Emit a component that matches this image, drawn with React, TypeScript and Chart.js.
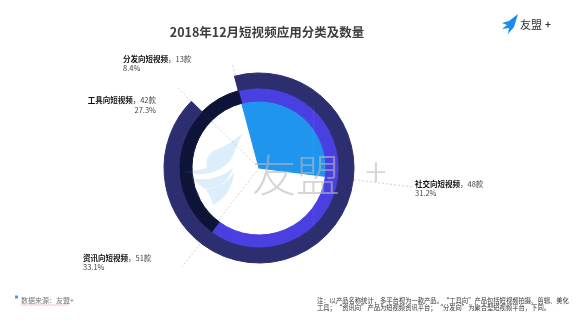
import React, { useEffect, useRef } from "react";
import { Chart, registerables } from "chart.js";

Chart.register(...registerables);

const categories = ["社交向短视频", "资讯向短视频", "工具向短视频", "分发向短视频"];
const counts = [48, 51, 42, 13];
const percentLabels = ["31.2%", "33.1%", "27.3%", "8.4%"];
const countLabels = ["，48款", "，51款", "，42款", "，13款"];
const titleText = "2018年12月短视频应用分类及数量";
const sourceText = "数据来源：友盟+";
const noteLines = [
  "注：以产品名称统计，多平台视为一款产品。“工具向”产品包括短视频拍摄、剪辑、美化",
  "工具；“资讯向”产品为短视频资讯平台；“分发向”为聚合型短视频平台，下同。",
];

const NAVY = "#2c2e70";
const PURPLE = "#4a3fe0";
const DARK = "#0e1437";
const BLUE = "#1f95ee";
const NONE = "rgba(0,0,0,0)";
const FONT = '"Noto Sans CJK SC", "Noto Sans", sans-serif';

// label anchor layout: [x, y, align, lineEnd x, lineEnd y]
const labelLayout: Array<[number, number, CanvasTextAlign, number, number]> = [
  [415, 184, "left", 413, 187],
  [83, 258, "left", 182, 267],
  [156, 100.5, "right", 177, 87],
  [123, 59, "left", 232, 63],
];

const overlayPlugin = {
  id: "overlay",
  beforeDatasetsDraw(chart: any) {
    const ctx = chart.ctx as CanvasRenderingContext2D;
    const arc = chart.getDatasetMeta(0).data[0];
    const cx = arc.x;
    const cy = arc.y;
    ctx.save();
    ctx.strokeStyle = "#bdbdbd";
    ctx.lineWidth = 0.7;
    ctx.setLineDash([2, 2]);
    labelLayout.forEach((l) => {
      ctx.beginPath();
      ctx.moveTo(cx, cy);
      ctx.lineTo(l[3], l[4]);
      ctx.stroke();
    });
    ctx.restore();
  },
  afterDatasetsDraw(chart: any) {
    const ctx = chart.ctx as CanvasRenderingContext2D;
    ctx.save();
    // watermark bird
    ctx.fillStyle = "rgba(40,140,230,0.16)";
    ctx.beginPath();
    ctx.moveTo(242, 134);
    ctx.quadraticCurveTo(226, 147, 213, 151);
    ctx.quadraticCurveTo(204, 158, 207, 168);
    ctx.quadraticCurveTo(195, 172, 182, 171);
    ctx.quadraticCurveTo(212, 181, 231, 160);
    ctx.quadraticCurveTo(236, 148, 242, 134);
    ctx.closePath();
    ctx.fill();
    ctx.beginPath();
    ctx.moveTo(190, 178);
    ctx.quadraticCurveTo(216, 183, 233, 168);
    ctx.quadraticCurveTo(226, 188, 205, 189);
    ctx.closePath();
    ctx.fill();
    ctx.beginPath();
    ctx.moveTo(206, 190);
    ctx.quadraticCurveTo(226, 186, 234, 172);
    ctx.quadraticCurveTo(232, 195, 213, 205);
    ctx.quadraticCurveTo(211, 196, 206, 190);
    ctx.closePath();
    ctx.fill();
    // watermark text
    ctx.fillStyle = "rgba(185,185,185,0.6)";
    ctx.font = `300 44px ${FONT}`;
    ctx.textBaseline = "middle";
    ctx.textAlign = "left";
    ctx.fillText("友盟", 252, 175);
    ctx.font = `300 40px ${FONT}`;
    ctx.textAlign = "center";
    ctx.fillText("+", 376, 172);
    // faint guide line
    ctx.strokeStyle = "rgba(255,255,255,0.1)";
    ctx.lineWidth = 0.6;
    ctx.beginPath();
    ctx.moveTo(313.5, 106);
    ctx.lineTo(313.5, 229);
    ctx.stroke();
    ctx.restore();
  },
  afterDraw(chart: any) {
    const ctx = chart.ctx as CanvasRenderingContext2D;
    ctx.save();
    ctx.textBaseline = "middle";
    // title
    ctx.fillStyle = "#3d3d3d";
    ctx.font = `bold 12.5px ${FONT}`;
    ctx.textAlign = "center";
    ctx.fillText(titleText, 267, 32);
    // slice labels
    categories.forEach((name, i) => {
      const [x, y, align] = labelLayout[i];
      ctx.font = `bold 7.5px ${FONT}`;
      const wName = ctx.measureText(name).width;
      ctx.font = `7.5px ${FONT}`;
      const wCount = ctx.measureText(countLabels[i]).width;
      const wPct = ctx.measureText(percentLabels[i]).width;
      const startX = align === "left" ? x : x - wName - wCount;
      ctx.textAlign = "left";
      ctx.fillStyle = "#111";
      ctx.font = `bold 7.5px ${FONT}`;
      ctx.fillText(name, startX, y);
      ctx.fillStyle = "#444";
      ctx.font = `7.5px ${FONT}`;
      ctx.fillText(countLabels[i], startX + wName, y);
      const px = align === "left" ? x : x - wPct;
      ctx.fillText(percentLabels[i], px, y + 9.5);
    });
    // top-right logo
    ctx.fillStyle = "#1a8ceb";
    ctx.beginPath();
    ctx.moveTo(518, 14);
    ctx.lineTo(509, 21);
    ctx.lineTo(502, 23);
    ctx.lineTo(507, 25);
    ctx.lineTo(502, 29);
    ctx.lineTo(509, 28);
    ctx.lineTo(508, 34);
    ctx.lineTo(514, 27);
    ctx.closePath();
    ctx.fill();
    ctx.fillStyle = "#333";
    ctx.font = `11px ${FONT}`;
    ctx.textAlign = "left";
    ctx.fillText("友盟", 520, 25);
    ctx.font = `bold 10px ${FONT}`;
    ctx.fillText("+", 545, 24);
    // source
    ctx.fillStyle = "#4a9de8";
    ctx.fillRect(15, 295.5, 3, 3);
    ctx.fillStyle = "#777";
    ctx.font = `7px ${FONT}`;
    ctx.fillText(sourceText, 21, 300.5);
    ctx.strokeStyle = "rgba(230,80,80,0.55)";
    ctx.lineWidth = 0.6;
    ctx.beginPath();
    for (let xx = 21; xx <= 70; xx += 2) {
      const yy = xx % 4 === 1 ? 304.5 : 305.5;
      if (xx === 21) ctx.moveTo(xx, yy);
      else ctx.lineTo(xx, yy);
    }
    ctx.stroke();
    // note
    ctx.fillStyle = "#333";
    ctx.font = `6.3px ${FONT}`;
    ctx.fillText(noteLines[0], 317, 300.7, 255);
    ctx.fillText(noteLines[1], 317, 307.5, 255);
    ctx.restore();
  },
};

export default function App() {
  const ref = useRef<HTMLCanvasElement | null>(null);
  useEffect(() => {
    if (!ref.current) return;
    const chart = new Chart(ref.current, {
      type: "doughnut",
      data: {
        labels: categories,
        datasets: [
          {
            data: counts,
            backgroundColor: [NAVY, NAVY, NAVY, NONE],
            borderColor: [NAVY, NAVY, NAVY, NONE],
            borderWidth: [1, 1, 1, 0],
            weight: 15,
          } as any,
          {
            data: counts,
            backgroundColor: [PURPLE, PURPLE, DARK, DARK],
            borderColor: [PURPLE, PURPLE, DARK, DARK],
            borderWidth: 1,
            weight: 13,
          } as any,
          {
            data: counts,
            backgroundColor: [BLUE, NONE, NONE, NONE],
            borderColor: [BLUE, NONE, NONE, NONE],
            borderWidth: [1, 0, 0, 0],
            weight: 67,
          } as any,
        ],
      },
      options: {
        animation: false,
        responsive: true,
        maintainAspectRatio: false,
        events: [],
        cutout: 0,
        radius: 95,
        rotation: -15,
        layout: { padding: { left: 0, right: 62, top: 14, bottom: 0 } },
        plugins: {
          legend: { display: false },
          tooltip: { enabled: false },
          title: { display: false },
        },
      } as any,
      plugins: [overlayPlugin],
    });
    return () => chart.destroy();
  }, []);
  return (
    <div style={{ position: "absolute", left: 0, top: 0, width: 580, height: 322, background: "#fff" }}>
      <canvas ref={ref} />
    </div>
  );
}
